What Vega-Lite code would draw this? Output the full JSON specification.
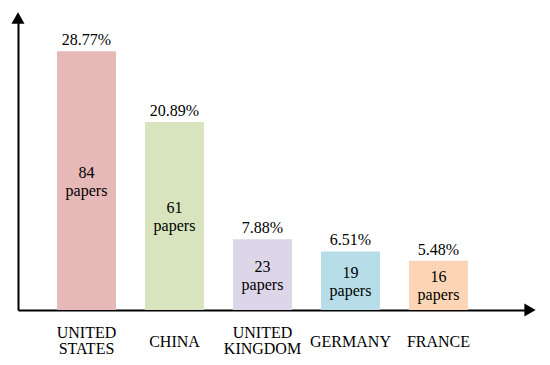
{
  "$schema": "https://vega.github.io/schema/vega-lite/v6.json",
  "width": 512,
  "height": 292,
  "padding": {"left": 18, "top": 18, "right": 20, "bottom": 55},
  "autosize": {"type": "none"},
  "background": "white",
  "config": {
    "view": {"stroke": null},
    "font": "Liberation Serif"
  },
  "datasets": {
    "bars": [
      {"country": "UNITED STATES", "papers": 84, "pct": "28.77%", "label": "84 papers"},
      {"country": "CHINA", "papers": 61, "pct": "20.89%", "label": "61 papers"},
      {"country": "UNITED KINGDOM", "papers": 23, "pct": "7.88%", "label": "23 papers"},
      {"country": "GERMANY", "papers": 19, "pct": "6.51%", "label": "19 papers"},
      {"country": "FRANCE", "papers": 16, "pct": "5.48%", "label": "16 papers"}
    ],
    "arrows": [
      {"ax": 0, "ay": 1, "shape": "triangle-up"},
      {"ax": 1, "ay": 0, "shape": "triangle-right"}
    ]
  },
  "layer": [
    {
      "data": {"name": "bars"},
      "encoding": {
        "x": {
          "field": "country", "type": "nominal", "sort": null,
          "scale": {"paddingInner": 0.3295, "paddingOuter": 0.574, "align": 0.386},
          "axis": {
            "title": null, "ticks": false, "domain": true, "domainColor": "black", "domainWidth": 2,
            "labelAngle": 0, "labelExpr": "split(datum.label, ' ')",
            "labelFont": "Liberation Serif", "labelFontSize": 16, "labelLineHeight": 16,
            "labelColor": "black", "labelBaseline": "middle",
            "labelPadding": {"condition": {"test": "indexof(datum.label, ' ') >= 0", "value": 22}, "value": 31}
          }
        }
      },
      "layer": [
        {
          "mark": {"type": "bar"},
          "encoding": {
            "y": {
              "field": "papers", "type": "quantitative",
              "scale": {"domain": [0, 94.8], "nice": false},
              "axis": {"title": null, "labels": false, "ticks": false, "grid": false, "domainColor": "black", "domainWidth": 2}
            },
            "color": {
              "field": "country", "type": "nominal", "sort": null, "legend": null,
              "scale": {"domain": ["UNITED STATES", "CHINA", "UNITED KINGDOM", "GERMANY", "FRANCE"],
                        "range": ["#E6B8B7", "#D7E4BD", "#DDD6E8", "#B7DDE8", "#FBD5B5"]}
            }
          }
        },
        {
          "mark": {"type": "text", "baseline": "alphabetic", "dy": -6, "fontSize": 16, "font": "Liberation Serif", "color": "black"},
          "encoding": {
            "y": {"field": "papers", "type": "quantitative", "scale": {"domain": [0, 94.8], "nice": false}, "axis": null},
            "text": {"field": "pct"}
          }
        },
        {
          "mark": {"type": "text", "baseline": "middle", "fontSize": 16, "lineHeight": 18, "lineBreak": " ", "font": "Liberation Serif", "color": "black", "dy": -8},
          "encoding": {
            "y": {"field": "papers", "type": "quantitative", "scale": {"domain": [0, 189.6], "nice": false}, "axis": null},
            "text": {"field": "label"}
          }
        }
      ],
      "resolve": {"scale": {"y": "independent"}}
    },
    {
      "data": {"name": "arrows"},
      "mark": {"type": "point", "filled": true, "size": 170, "color": "black", "opacity": 1},
      "encoding": {
        "x": {"field": "ax", "type": "quantitative", "scale": {"domain": [0, 1], "nice": false}, "axis": null},
        "y": {"field": "ay", "type": "quantitative", "scale": {"domain": [0, 1], "nice": false}, "axis": null},
        "shape": {"field": "shape", "type": "nominal", "scale": null, "legend": null}
      }
    }
  ],
  "resolve": {"scale": {"x": "independent", "y": "independent"}}
}
